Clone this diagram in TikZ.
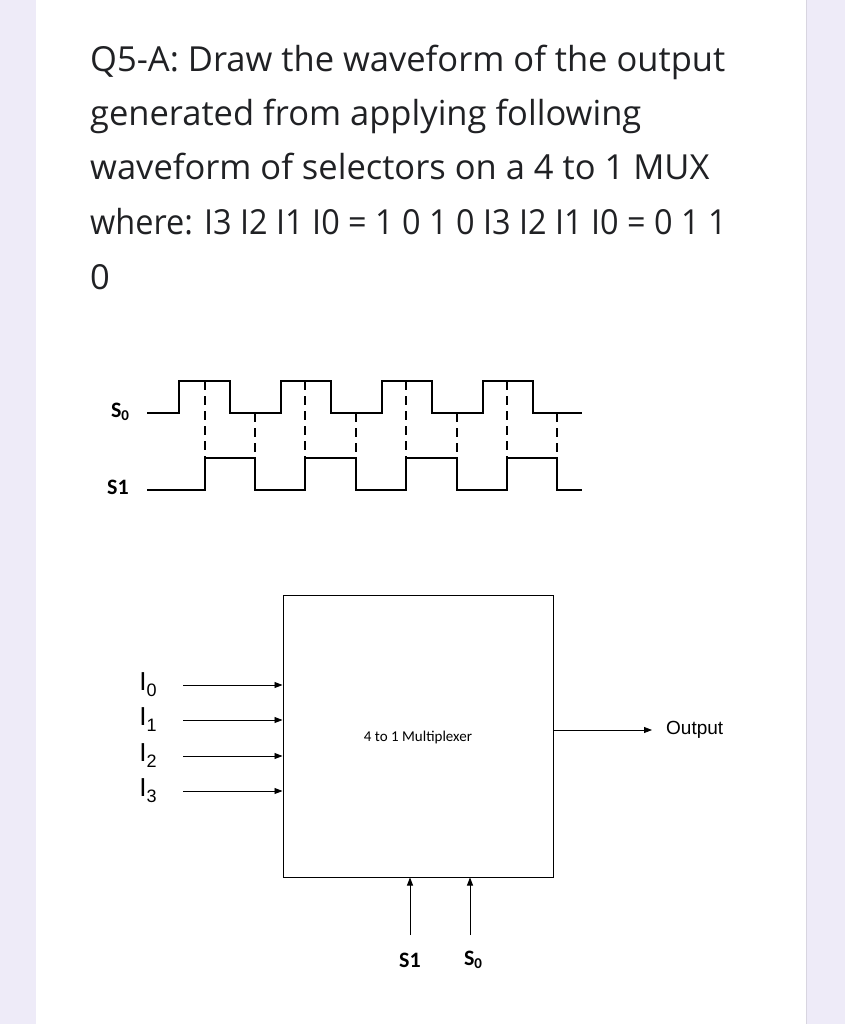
\documentclass[tikz,border=0pt]{standalone}
\usepackage{fontspec}
\setmainfont{Open Sans}
\newfontfamily\carl{Carlito}
\newfontfamily\arial{Liberation Sans}
\usetikzlibrary{arrows.meta}
\definecolor{lav}{HTML}{EEEBF8}
\definecolor{txt}{HTML}{202124}
\newcommand{\szero}{S\raisebox{-3pt}{\fontsize{15}{16}\selectfont 0}}
\begin{document}
\begin{tikzpicture}[x=1pt,y=-1pt,
  wave/.style={line width=1.8pt,line join=miter},
  dsh/.style={line width=1.4pt,dash pattern=on 9pt off 6pt},
  q/.style={anchor=base west,inner sep=0pt,font=\fontsize{34.5}{40}\selectfont,text=txt},
  arr/.style={line width=0.8pt,-{Triangle[length=8pt,width=6pt]}},
  lbl/.style={font=\carl\bfseries\fontsize{22}{24}\selectfont,inner sep=0pt},
  inl/.style={font=\arial\fontsize{26}{28}\selectfont,inner sep=0pt}]
\useasboundingbox (0,0) rectangle (845,1024);
\fill[lav] (0,0) rectangle (845,1024);
\fill[white] (36,0) rectangle (806,1024);
\draw[lav!80!gray,line width=0.6pt] (806,0) -- (806,1024);
% question
\node[q] (l1) at (90,72) {Q5-A: Draw the waveform of the output};
\node[q] (l2) at (90,126) {generated from applying following};
\node[q] (l3) at (90,180) {waveform of selectors on a 4 to 1 MUX};
\node[q] (l4) at (90,234) {\scalebox{0.94}[1]{where: I3 I2 I1 I0 = 1 0 1 0 I3 I2 I1 I0 = 0 1 1}};
\node[q] (l5) at (90,289) {0};
% waveforms
\node[lbl] (s0) at (120,412) {\szero};
\node[lbl] (s1) at (118,487) {S1};
\draw[wave] (147,413) -- (179,413) -- (179,381) -- (230,381) -- (230,413) -- (281,413) -- (281,381) -- (331,381) -- (331,413) -- (382,413) -- (382,381) -- (432,381) -- (432,413) -- (483,413) -- (483,381) -- (533,381) -- (533,413) -- (582,413);
\draw[wave] (147,490) -- (205,490) -- (205,458) -- (255,458) -- (255,490) -- (305,490) -- (305,458) -- (356,458) -- (356,490) -- (406,490) -- (406,458) -- (457,458) -- (457,490) -- (507,490) -- (507,458) -- (557,458) -- (557,490) -- (582,490);
\foreach \x/\y in {205/381,255/413,305/381,356/413,406/381,457/413,507/381,557/413}
  \draw[dsh] (\x,\y) -- (\x,458);
% multiplexer
\node[draw,line width=1pt,minimum width=270pt,minimum height=282pt,inner sep=0pt] (mux) at (418,736) {};
\node[font=\carl\fontsize{15}{16}\selectfont] (mt) at (418,737) {4 to 1 Multiplexer};
\foreach \i/\y in {0/685,1/720,2/756,3/791}{
  \node[inl] (i\i) at (148,\y) {I\raisebox{-6pt}{\fontsize{18}{20}\selectfont\i}};
  \coordinate (a\i) at (183,\y);
  \draw[arr] (a\i) -- (mux.west |- a\i);
}
\coordinate (o) at (652,730);
\draw[arr] (mux.east |- o) -- (o);
\node[font=\arial\fontsize{19}{20}\selectfont,anchor=west,inner sep=0pt] (out) at (666,730) {Output};
\coordinate (b1) at (410,935);
\coordinate (b0) at (470,935);
\draw[arr] (b1) -- (b1 |- mux.south);
\draw[arr] (b0) -- (b0 |- mux.south);
\node[lbl] (bs1) at (410,960) {S1};
\node[lbl] (bs0) at (473,960) {\szero};
\end{tikzpicture}
\end{document}
